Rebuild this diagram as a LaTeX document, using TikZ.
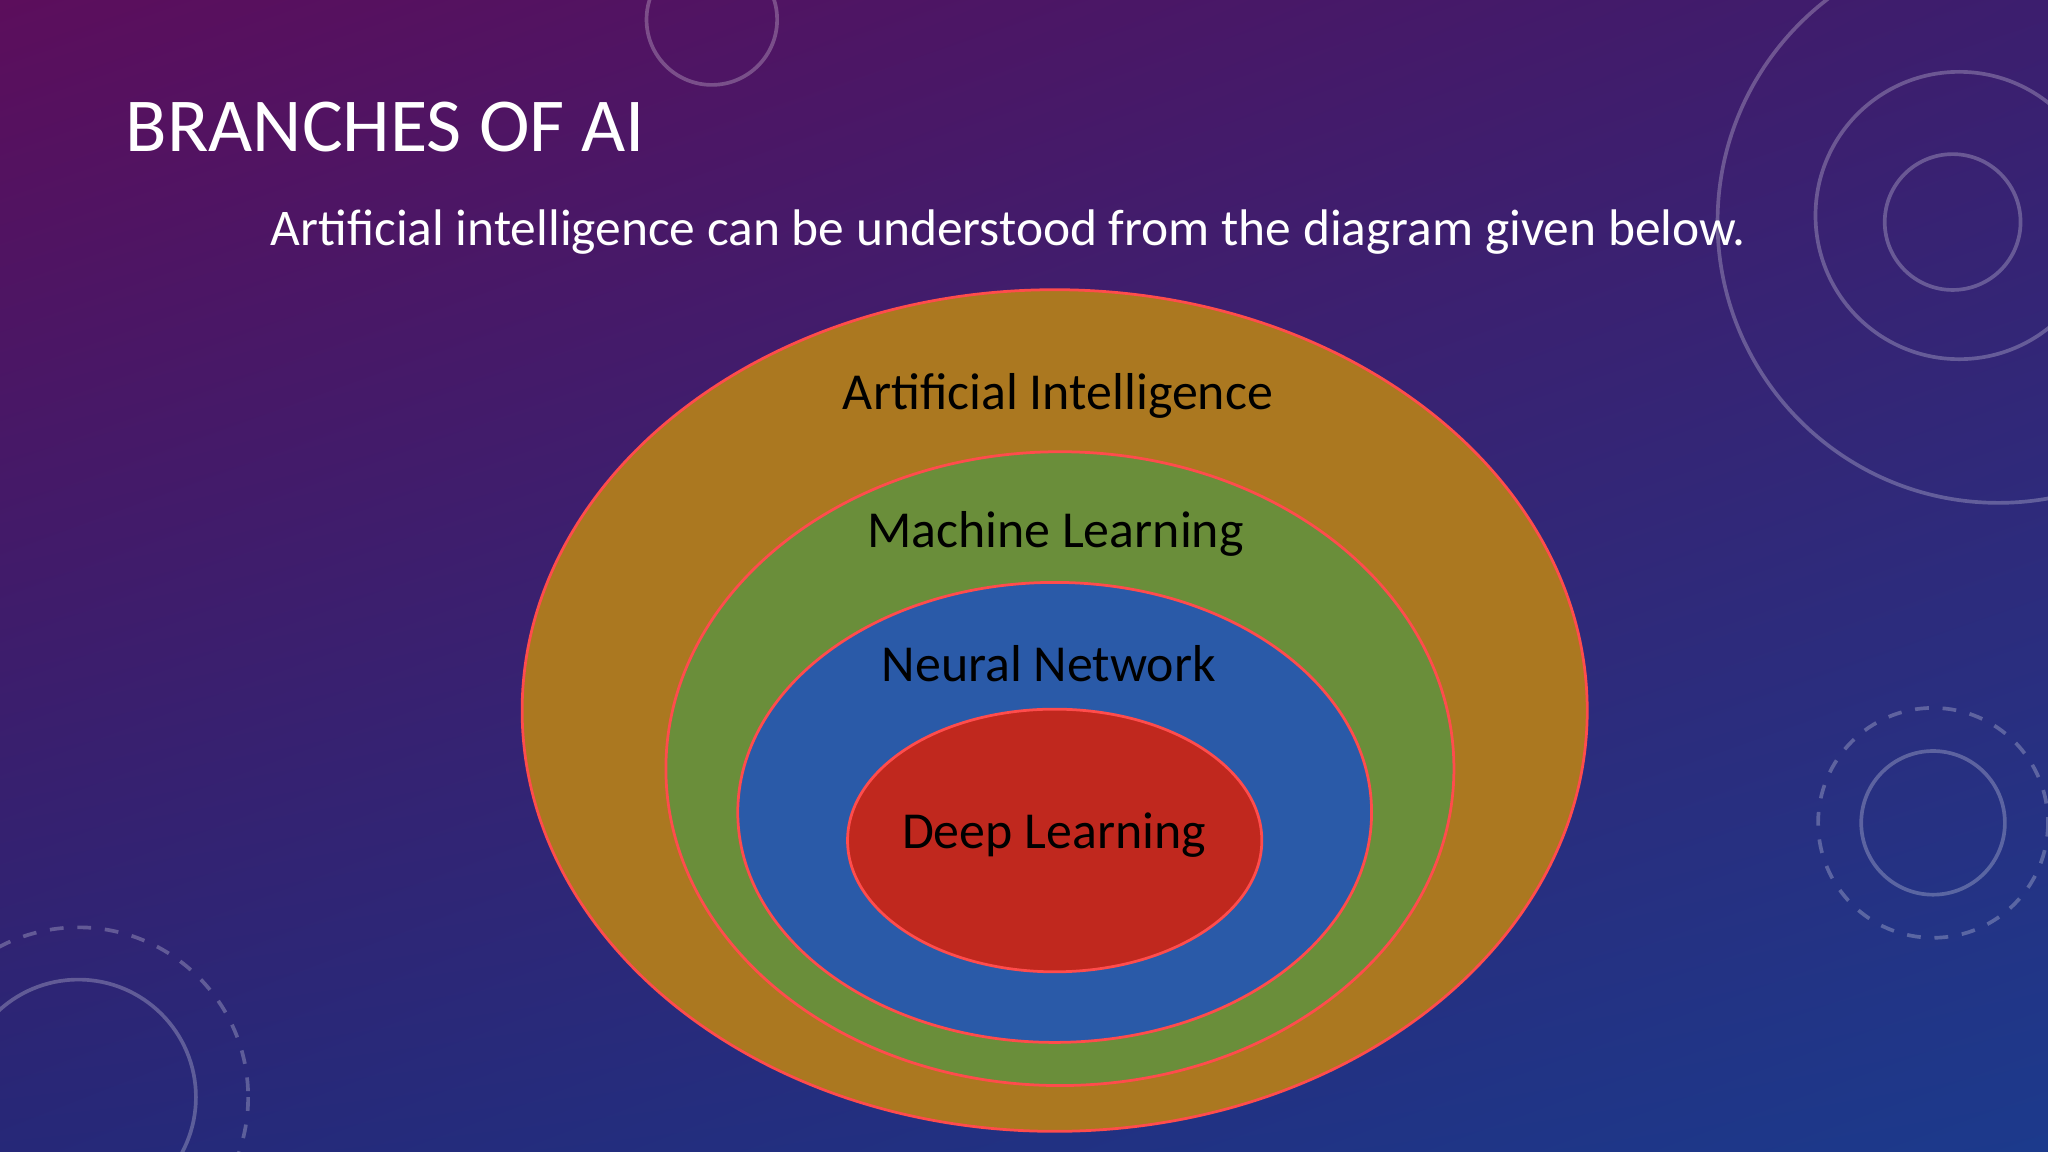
\documentclass[tikz,border=0pt]{standalone}
\usepackage{fontspec}
\setmainfont{Carlito}
\usetikzlibrary{shapes.geometric,shadings}
\definecolor{bgul}{RGB}{92,14,92}
\definecolor{bgur}{RGB}{60,30,110}
\definecolor{bgll}{RGB}{38,40,120}
\definecolor{bglr}{RGB}{28,58,140}
\definecolor{cai}{RGB}{171,120,32}
\definecolor{cml}{RGB}{106,142,58}
\definecolor{cnn}{RGB}{42,90,168}
\definecolor{cdl}{RGB}{192,40,30}
\begin{document}
\begin{tikzpicture}[x=0.01cm,y=-0.01cm,
  ring/.style={draw=red!70!white, line width=0.6pt, ellipse, inner sep=0},
  lbl/.style={font=\fontsize{11.3}{13}\selectfont, text=black},
  deco/.style={draw=white, opacity=0.25, line width=0.8pt}]
\shade[upper left=bgul, upper right=bgur, lower left=bgll, lower right=bglr]
  (0,0) rectangle (1568,882);
\useasboundingbox (0,0) rectangle (1568,882);
% decorations
\draw[deco] (545,15) circle (50);
\draw[deco] (1495,170) circle (52);
\draw[deco] (1500,165) circle (110);
\draw[deco] (1530,170) circle (215);
\draw[deco] (1480,630) circle (55);
\draw[deco,dashed] (1480,630) circle (88);
\draw[deco] (60,840) circle (90);
\draw[deco,dashed] (60,840) circle (130);
% ellipses
\node[ring, fill=cai, minimum width=8.15cm, minimum height=6.44cm] (ai) at (807.5,544) {};
\node[ring, fill=cml, minimum width=6.03cm, minimum height=4.85cm] (ml) at (811.5,588.5) {};
\node[ring, fill=cnn, minimum width=4.85cm, minimum height=3.52cm] (nn) at (807.5,622) {};
\node[ring, fill=cdl, minimum width=3.17cm, minimum height=2.01cm] (dl) at (807.5,643.5) {};
\node[lbl] (tai) at (810,303) {Artificial Intelligence};
\node[lbl] (tml) at (808,409) {Machine Learning};
\node[lbl] (tnn) at (803,508) {Neural Network};
\node[lbl] (tdl) at (807,639) {Deep Learning};
% titles
\node[anchor=west, text=white, font=\fontsize{16.6}{20}\selectfont] (title) at (84,97) {BRANCHES OF AI};
\node[text=white, font=\fontsize{11.2}{13}\selectfont] (sub) at (772,178) {Artificial intelligence can be understood from the diagram given below.};
\end{tikzpicture}
\end{document}
